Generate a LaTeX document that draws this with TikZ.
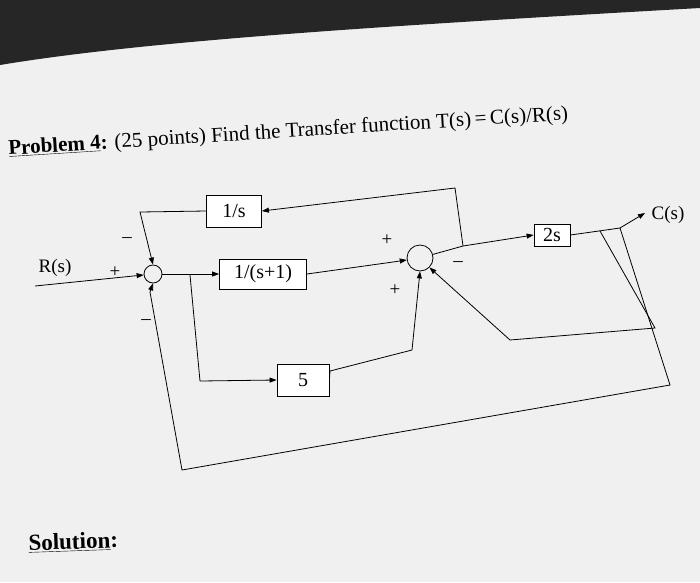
\documentclass[tikz,border=0pt]{standalone}
\usepackage{fontspec}
\setmainfont{Liberation Serif}
\usetikzlibrary{arrows.meta}
\begin{document}
\begin{tikzpicture}[x=1pt,y=-1pt,
  blk/.style={draw,line width=0.8pt,fill=white,minimum width=#1,minimum height=28pt,inner sep=1pt,font=\fontsize{20}{22}\selectfont},
  sumj/.style={draw,circle,line width=0.8pt,inner sep=0pt},
  wire/.style={line width=0.8pt},
  arr/.style={line width=0.8pt,-{Triangle[length=7pt,width=5pt]}},
  lbl/.style={font=\fontsize{19}{21}\selectfont}]
\useasboundingbox (0,0) rectangle (700,582);
\fill[gray!12] (0,0) rectangle (700,582);
\fill[black!85] (0,0) -- (700,0) -- (700,8) .. controls (400,25) and (150,40) .. (0,65) -- cycle;
\node[anchor=west,rotate=3.6,font=\fontsize{21}{24}\selectfont] (title) at (5,150)
  {\textbf{\underline{Problem 4}:} (25 points) Find the Transfer function T(s)\,=\,C(s)/R(s)};
\node[sumj,minimum size=18pt] (s1) at (153,274) {};
\node[sumj,minimum size=26pt] (s2) at (420,258) {};
\node[blk=55pt,minimum height=32pt] (b1) at (234,211) {1/s};
\node[blk=87pt,minimum height=30pt] (b2) at (263,274) {1/(s+1)};
\node[blk=52pt,minimum height=32pt] (b3) at (303,380) {5};
\node[blk=36pt,minimum height=22pt] (b4) at (552,235) {2s};
\node[lbl] (r) at (55,268) {R(s)};
\node[lbl] (c) at (668,215) {C(s)};
\node[lbl] at (115,272) {+};
\node[lbl] at (127,240) {--};
\node[lbl] at (146,322) {--};
\node[lbl] at (387,240) {+};
\node[lbl] at (395,290) {+};
\node[lbl] at (458,264) {--};
\coordinate (in) at (35,286);
\draw[arr] (in) -- (s1);
\draw[arr] (s1) -- (b2);
\draw[arr] (b2.east) -- (393,262) -- (s2);
\coordinate (t1) at (463,246);
\draw[arr] (s2) -- (t1) -- (b4.west);
\coordinate (o1) at (600,231);
\coordinate (o2) at (620,228);
\draw[wire] (b4.east) -- (o2);
\draw[arr] (o2) -- (645,213);
\draw[arr] (t1) -- (455,188) -- (b1.east);
\draw[arr] (b1.west) -- (140,212) -- (s1.north);
\coordinate (p1) at (190,275);
\draw[arr] (p1) -- (200,381) -- (b3.west);
\draw[arr] (b3.east) -- (330,371) -- (412,350) -- (s2.south);
\draw[arr] (o1) -- (655,328) -- (510,340) -- (s2.south east);
\draw[arr] (o2) -- (670,385) -- (182,470) -- (150,292) -- (s1.south);
\node[anchor=west,font=\fontsize{23}{26}\selectfont\bfseries,rotate=2] (sol) at (25,544) {\underline{Solution}:};
\end{tikzpicture}
\end{document}
